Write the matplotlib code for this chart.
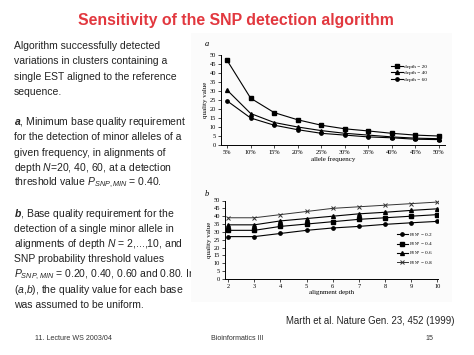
import matplotlib
matplotlib.use("Agg")
import matplotlib.pyplot as plt
from matplotlib.patches import Rectangle

plt.rcParams['font.family'] = ['Liberation Sans', 'DejaVu Sans']
plt.rcParams['mathtext.fontset'] = 'custom'
plt.rcParams['mathtext.rm'] = 'Liberation Sans'
plt.rcParams['mathtext.it'] = 'Liberation Sans:italic'
plt.rcParams['mathtext.bf'] = 'Liberation Sans:bold:italic'

# chart a data
freq_labels = ["5%", "10%", "15%", "20%", "25%", "30%", "35%", "40%", "45%", "50%"]
depth20 = [47, 26, 18, 14, 11, 9, 7.8, 6.5, 5.5, 5]
depth40 = [30.5, 17.5, 12.5, 10, 8, 6.5, 5.5, 4.5, 3.8, 3.5]
depth60 = [24.5, 15, 11, 8.5, 6.5, 5.5, 4.5, 4, 3.2, 3]

# chart b data
depths = [2, 3, 4, 5, 6, 7, 8, 9, 10]
p02 = [27, 27, 29, 31, 32.5, 33.5, 34.8, 35.8, 36.7]
p04 = [31, 31, 33.5, 35, 36.5, 38, 39, 40, 41]
p06 = [34.5, 34.5, 37, 38.5, 40, 41.5, 42.5, 43.7, 44.7]
p08 = [39, 39, 41, 43, 45, 46, 47, 48, 49]

body_lines = [
    "Algorithm successfully detected",
    "variations in clusters containing a",
    "single EST aligned to the reference",
    "sequence.",
    "",
    r"$\bf{a}$, Minimum base quality requirement",
    "for the detection of minor alleles of a",
    "given frequency, in alignments of",
    r"depth $N$=20, 40, 60, at a detection",
    r"threshold value $P_{SNP,MIN}$ = 0.40.",
    "",
    r"$\bf{b}$, Base quality requirement for the",
    "detection of a single minor allele in",
    r"alignments of depth $N$ = 2,...,10, and",
    "SNP probability threshold values",
    r"$P_{SNP,MIN}$ = 0.20, 0.40, 0.60 and 0.80. In",
    r"($a$,$b$), the quality value for each base",
    "was assumed to be uniform.",
]

W, H = 474, 355
fig = plt.figure(figsize=(W / 100, H / 100), dpi=100)


def fx(x):
    return x / W


def fy(y):
    return 1 - y / H


fig.text(fx(236), fy(20), "Sensitivity of the SNP detection algorithm", color="#e2383f",
         fontsize=11.4, fontweight="bold", ha="center", va="center")

for i, line in enumerate(body_lines):
    if line:
        fig.text(fx(14), fy(46 + i * 15.25), line, fontsize=7.5, color="#222222",
                 ha="left", va="center")

# panel holding the figures (covers the end of the text line)
fig.patches.append(Rectangle((fx(191), fy(302)), fx(452) - fx(191), fy(33) - fy(302),
                             transform=fig.transFigure, facecolor="#fbfbfb",
                             edgecolor="none", zorder=4))

serif = "Liberation Serif"
tick_fs = 4.6

# --- chart a ---
ax1 = fig.add_axes([fx(221), fy(145), fx(445) - fx(221), (145 - 55) / H])
ax1.set_zorder(5)
ax1.patch.set_visible(False)
xs = list(range(len(freq_labels)))
ax1.plot(xs, depth20, color="black", lw=0.8, marker="s", ms=2.6, label="depth = 20")
ax1.plot(xs, depth40, color="black", lw=0.8, marker="^", ms=2.8, label="depth = 40")
ax1.plot(xs, depth60, color="black", lw=0.8, marker="o", ms=2.4, label="depth = 60")
ax1.set_xlim(-0.26, 9.26)
ax1.set_ylim(0, 50)
ax1.set_yticks(range(0, 51, 5))
ax1.set_xticks(xs)
ax1.set_xticklabels(freq_labels)
ax1.set_xlabel("allele frequency", fontsize=5, family=serif, labelpad=1)
ax1.set_ylabel("quality value", fontsize=5, family=serif, labelpad=1)
leg1 = ax1.legend(loc="upper right", bbox_to_anchor=(0.93, 0.93), frameon=False,
                  prop={"family": serif, "size": 3.8}, handlelength=2.2,
                  handletextpad=0.2, labelspacing=0.35, borderpad=0)

# --- chart b ---
ax2 = fig.add_axes([fx(225), fy(279), fx(438) - fx(225), (279 - 200.5) / H])
ax2.set_zorder(5)
ax2.patch.set_visible(False)
ax2.plot(depths, p02, color="black", lw=0.8, marker="o", ms=2.4, label=r"P$_{\rm SNP}$ = 0.2")
ax2.plot(depths, p04, color="black", lw=0.8, marker="s", ms=2.4, label=r"P$_{\rm SNP}$ = 0.4")
ax2.plot(depths, p06, color="black", lw=0.8, marker="^", ms=2.8, label=r"P$_{\rm SNP}$ = 0.6")
ax2.plot(depths, p08, color="#333333", lw=0.7, marker="x", ms=3, mew=0.7, label=r"P$_{\rm SNP}$ = 0.8")
ax2.set_xlim(1.88, 10.03)
ax2.set_ylim(0, 50)
ax2.set_yticks(range(0, 51, 5))
ax2.set_xticks(depths)
ax2.set_xlabel("alignment depth", fontsize=5, family=serif, labelpad=1)
ax2.set_ylabel("quality value", fontsize=5, family=serif, labelpad=1)
leg2 = ax2.legend(loc="lower right", bbox_to_anchor=(0.99, 0.12), frameon=False,
                  prop={"family": serif, "size": 3.8}, handlelength=2.2,
                  handletextpad=0.2, labelspacing=0.35, borderpad=0)
for t in leg2.get_texts():
    t.set_math_fontfamily("stix")

for ax in (ax1, ax2):
    ax.spines["top"].set_visible(False)
    ax.spines["right"].set_visible(False)
    ax.spines["left"].set_linewidth(0.7)
    ax.spines["bottom"].set_linewidth(0.7)
    ax.tick_params(labelsize=tick_fs, width=0.5, length=2, pad=1.5)
    for lab in ax.get_xticklabels() + ax.get_yticklabels():
        lab.set_family(serif)

fig.text(fx(205), fy(46), "a", family=serif, style="italic", fontsize=6, zorder=6)
fig.text(fx(205), fy(196), "b", family=serif, style="italic", fontsize=6, zorder=6)

fig.text(fx(455), fy(321), "Marth et al. Nature Gen. 23, 452 (1999)", fontsize=6.9,
         color="#222222", ha="right", va="center")
fig.text(fx(35), fy(338), "11. Lecture WS 2003/04", fontsize=5.1, color="#333333",
         ha="left", va="center")
fig.text(fx(237), fy(338), "Bioinformatics III", fontsize=5.1, color="#333333",
         ha="center", va="center")
fig.text(fx(433), fy(338), "15", fontsize=5.1, color="#333333", ha="right", va="center")

fig.savefig("out.png", dpi=100)
